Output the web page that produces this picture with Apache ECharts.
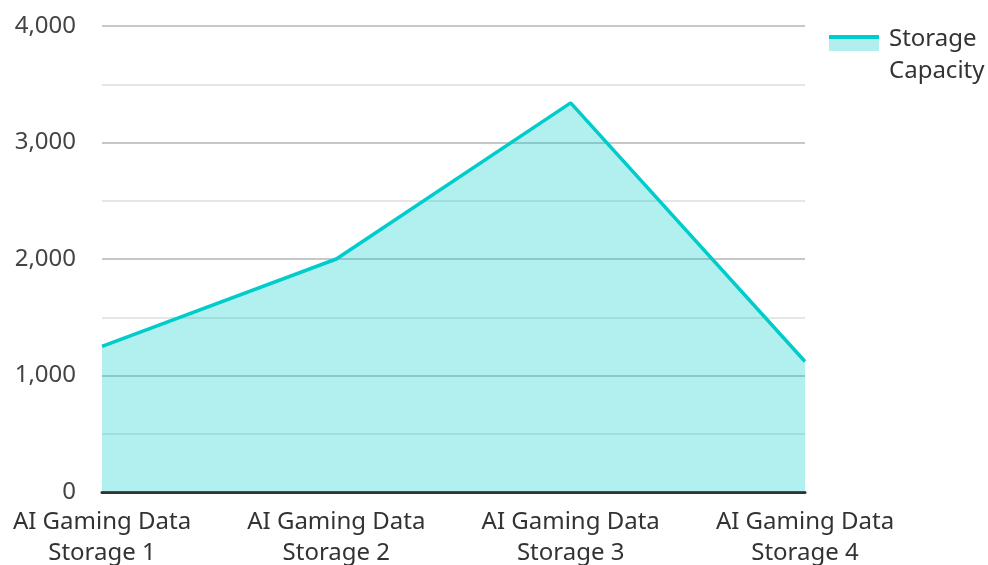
<!DOCTYPE html>
<html>
<head>
<meta charset="utf-8">
<script src="https://cdn.jsdelivr.net/npm/echarts@6/dist/echarts.min.js"></script>
<style>
  html, body { margin: 0; padding: 0; background: #fff; }
  #chart { width: 988px; height: 565px; }
</style>
</head>
<body>
<div id="chart"></div>
<script>
const categories = ['AI Gaming Data\nStorage 1', 'AI Gaming Data\nStorage 2', 'AI Gaming Data\nStorage 3', 'AI Gaming Data\nStorage 4']
const capacity = [1250, 2000, 3340, 1120]
const seriesName = 'Storage Capacity'

const teal = '#00cccc'
const fill = '#b2eeee'

const chart = echarts.init(document.getElementById('chart'))
chart.setOption({
  animation: false,
  textStyle: { fontFamily: 'Noto Sans' },
  legend: {
    left: 824,
    top: 18,
    orient: 'vertical',
    icon: 'rect',
    itemWidth: 50,
    itemHeight: 64,
    formatter: () => 'Storage\nCapacity',
    textStyle: { fontSize: 24, color: '#333', lineHeight: 32, padding: [0, 0, 0, 5] },
    // icon sits beside the first line only: teal edge, light fill, rest transparent
    itemStyle: {
      color: new echarts.graphic.LinearGradient(0, 0, 0, 1, [
        { offset: 0, color: 'rgba(255,255,255,0)' },
        { offset: 0.19, color: 'rgba(255,255,255,0)' },
        { offset: 0.19, color: teal },
        { offset: 0.255, color: teal },
        { offset: 0.255, color: fill },
        { offset: 0.43, color: fill },
        { offset: 0.43, color: 'rgba(255,255,255,0)' },
        { offset: 1, color: 'rgba(255,255,255,0)' }
      ])
    },
    data: [seriesName]
  },
  grid: {
    left: 102,
    right: 183,
    top: 26,
    bottom: 73,
    outerBoundsMode: 'none',
    containLabel: false
  },
  xAxis: {
    type: 'category',
    boundaryGap: false,
    data: categories,
    axisLine: { lineStyle: { color: '#333', width: 3 } },
    axisTick: { show: false },
    axisLabel: { fontSize: 24, color: '#333', lineHeight: 31, margin: 15 }
  },
  yAxis: {
    type: 'value',
    min: 0,
    max: 4000,
    interval: 1000,
    axisLabel: { fontSize: 24, color: '#444', margin: 26, formatter: v => v.toLocaleString('en-US') },
    splitLine: { lineStyle: { color: '#c8c8c8', width: 2 } },
    minorTick: { show: false, splitNumber: 2 },
    minorSplitLine: { show: true, lineStyle: { color: '#e6e6e6', width: 2 } }
  },
  series: [
    {
      name: seriesName,
      type: 'line',
      data: capacity,
      showSymbol: false,
      lineStyle: { color: teal, width: 3.5 },
      itemStyle: { color: teal },
      areaStyle: { color: teal, opacity: 0.3 },
      z: 1
    }
  ]
})
</script>
</body>
</html>
